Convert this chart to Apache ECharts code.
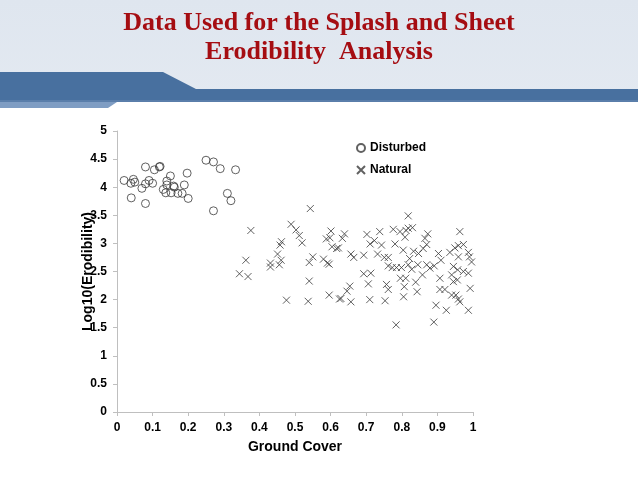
<!DOCTYPE html>
<html>
<head>
<meta charset="utf-8">
<script src="https://cdn.jsdelivr.net/npm/echarts@6/dist/echarts.min.js"></script>
<style>html,body{margin:0;padding:0;background:#fff}#c{width:638px;height:478px}</style>
</head>
<body>
<div id="c"></div>
<script>
const titleLines = ['Data Used for the Splash and Sheet', 'Erodibility  Analysis'];
const xTicks = [0, 0.1, 0.2, 0.3, 0.4, 0.5, 0.6, 0.7, 0.8, 0.9, 1];
const yTicks = [0, 0.5, 1, 1.5, 2, 2.5, 3, 3.5, 4, 4.5, 5];
const seriesNames = ['Disturbed', 'Natural'];
const disturbed = [
  [0.020,4.12],[0.039,4.07],[0.046,4.14],[0.050,4.09],[0.040,3.81],[0.080,4.36],[0.070,3.98],
  [0.080,4.06],[0.090,4.12],[0.100,4.07],[0.080,3.71],[0.105,4.31],[0.119,4.36],[0.121,4.37],
  [0.150,4.20],[0.140,4.11],[0.140,4.04],[0.130,3.96],[0.137,3.90],[0.152,3.90],[0.159,4.02],
  [0.161,4.00],[0.171,3.89],[0.183,3.89],[0.189,4.04],[0.197,4.25],[0.200,3.80],[0.250,4.48],
  [0.271,4.45],[0.290,4.33],[0.333,4.31],[0.310,3.89],[0.320,3.76],[0.271,3.58]
];
const natural = [
  [0.543,3.62],[0.376,3.23],[0.489,3.34],[0.503,3.24],[0.512,3.14],[0.520,3.01],[0.462,3.03],
  [0.458,2.97],[0.451,2.81],[0.461,2.70],[0.456,2.62],[0.431,2.65],[0.431,2.58],[0.362,2.70],
  [0.344,2.46],[0.368,2.41],[0.550,2.76],[0.540,2.66],[0.580,2.72],[0.591,2.65],[0.596,2.63],
  [0.540,2.33],[0.476,1.99],[0.537,1.97],[0.596,2.08],[0.625,2.01],[0.601,3.22],[0.588,3.08],
  [0.598,3.10],[0.604,2.94],[0.617,2.91],
  [0.818,3.49],[0.639,3.17],[0.633,3.09],[0.622,2.92],[0.657,2.81],[0.665,2.75],[0.693,2.79],
  [0.702,3.16],[0.711,2.99],[0.723,3.05],[0.738,3.21],[0.743,2.97],[0.732,2.81],[0.751,2.75],
  [0.762,2.75],[0.776,3.25],[0.795,3.21],[0.812,3.23],[0.809,3.11],[0.781,2.99],[0.804,2.88],
  [0.762,2.60],[0.773,2.57],[0.785,2.57],[0.799,2.57],[0.796,2.38],[0.807,2.23],[0.805,2.05],
  [0.693,2.46],[0.713,2.47],[0.706,2.28],[0.654,2.24],[0.646,2.15],[0.629,2.02],[0.657,1.96],
  [0.710,2.00],[0.753,1.98],[0.757,2.27],[0.762,2.18],[0.784,1.55],
  [0.818,3.27],[0.830,3.28],[0.873,3.17],[0.865,3.09],[0.870,2.98],[0.860,2.91],[0.847,2.82],
  [0.833,2.86],[0.822,2.73],[0.818,2.62],[0.828,2.54],[0.845,2.62],[0.858,2.44],[0.839,2.31],
  [0.843,2.14],[0.811,2.38],[0.870,2.62],[0.879,2.56],[0.903,2.82],[0.910,2.70],[0.891,2.60],
  [0.907,2.38],[0.907,2.18],[0.921,2.18],[0.896,1.90],[0.925,1.81],[0.890,1.60],[0.963,3.21],
  [0.935,2.84],[0.949,2.92],[0.959,2.96],[0.973,2.98],[0.959,2.76],[0.987,2.84],[0.990,2.76],
  [0.996,2.67],[0.945,2.59],[0.957,2.53],[0.973,2.50],[0.987,2.47],[0.940,2.44],[0.945,2.32],
  [0.956,2.35],[0.992,2.20],[0.940,2.08],[0.952,2.08],[0.959,2.01],[0.963,1.96],[0.987,1.81]
];

const chart = echarts.init(document.getElementById('c'), null, {renderer: 'canvas'});
const labelFont = {color: '#000', fontWeight: 'bold', fontSize: 12, fontFamily: 'Liberation Sans, Arial, sans-serif'};
const nameFont = Object.assign({}, labelFont, {fontSize: 14});
chart.setOption({
  backgroundColor: '#fff',
  animation: false,
  graphic: [
    {type: 'rect', z: 0, shape: {x: 0, y: 0, width: 638, height: 100},
      style: {fill: new echarts.graphic.LinearGradient(0, 0, 0, 1, [{offset: 0, color: '#dfe6ef'}, {offset: 1, color: '#e3e9f1'}])}},
    {type: 'polygon', z: 1, shape: {points: [[0, 100], [120, 100], [108, 108], [0, 108]]}, style: {fill: '#7f9dc3'}},
    {type: 'polygon', z: 1, shape: {points: [[0, 72], [163, 72], [196, 89], [638, 89], [638, 100], [0, 100]]}, style: {fill: '#48709f'}},
    {type: 'rect', z: 1, shape: {x: 0, y: 100, width: 638, height: 2}, style: {fill: '#5a7eaa'}},
    {type: 'text', z: 2, left: 'center', top: 9,
      style: {text: titleLines.join('\n'), fill: '#a50d12', font: 'bold 26px "Liberation Serif", "Times New Roman", serif', textAlign: 'center', lineHeight: 29}}
  ],
  grid: {left: 117, right: 165, top: 131, bottom: 66},
  legend: {
    orient: 'vertical', left: 351, top: 137, itemGap: 10, itemWidth: 8, itemHeight: 8, itemTextGap: 4,
    textStyle: labelFont,
    data: seriesNames
  },
  xAxis: {
    type: 'value', min: 0, max: 1, interval: 0.1,
    name: 'Ground Cover', nameLocation: 'middle', nameGap: 28, nameTextStyle: nameFont,
    axisLine: {show: true, lineStyle: {color: '#bfbfbf'}},
    axisTick: {show: true, length: 4, lineStyle: {color: '#bfbfbf'}},
    splitLine: {show: false},
    axisLabel: Object.assign({margin: 10, formatter: v => String(Math.round(v * 10) / 10)}, labelFont)
  },
  yAxis: {
    type: 'value', min: 0, max: 5, interval: 0.5,
    name: 'Log10(Erodibility)', nameLocation: 'middle', nameGap: 22, nameMoveOverlap: false, nameTextStyle: nameFont,
    axisLine: {show: true, lineStyle: {color: '#bfbfbf'}},
    axisTick: {show: true, length: 4, lineStyle: {color: '#bfbfbf'}},
    splitLine: {show: false},
    axisLabel: Object.assign({margin: 10, formatter: v => String(v)}, labelFont)
  },
  series: [
    {name: seriesNames[0], type: 'scatter', data: disturbed, symbol: 'circle', symbolSize: 8,
      itemStyle: {color: 'rgba(255,255,255,0)', borderColor: '#3a3a3a', borderWidth: 1}},
    {name: seriesNames[1], type: 'scatter', data: natural, symbol: 'path://M0,0L10,10M10,0L0,10', symbolSize: 7,
      itemStyle: {color: 'rgba(255,255,255,0)', borderColor: '#3a3a3a', borderWidth: 1}}
  ]
});
</script>
</body>
</html>
